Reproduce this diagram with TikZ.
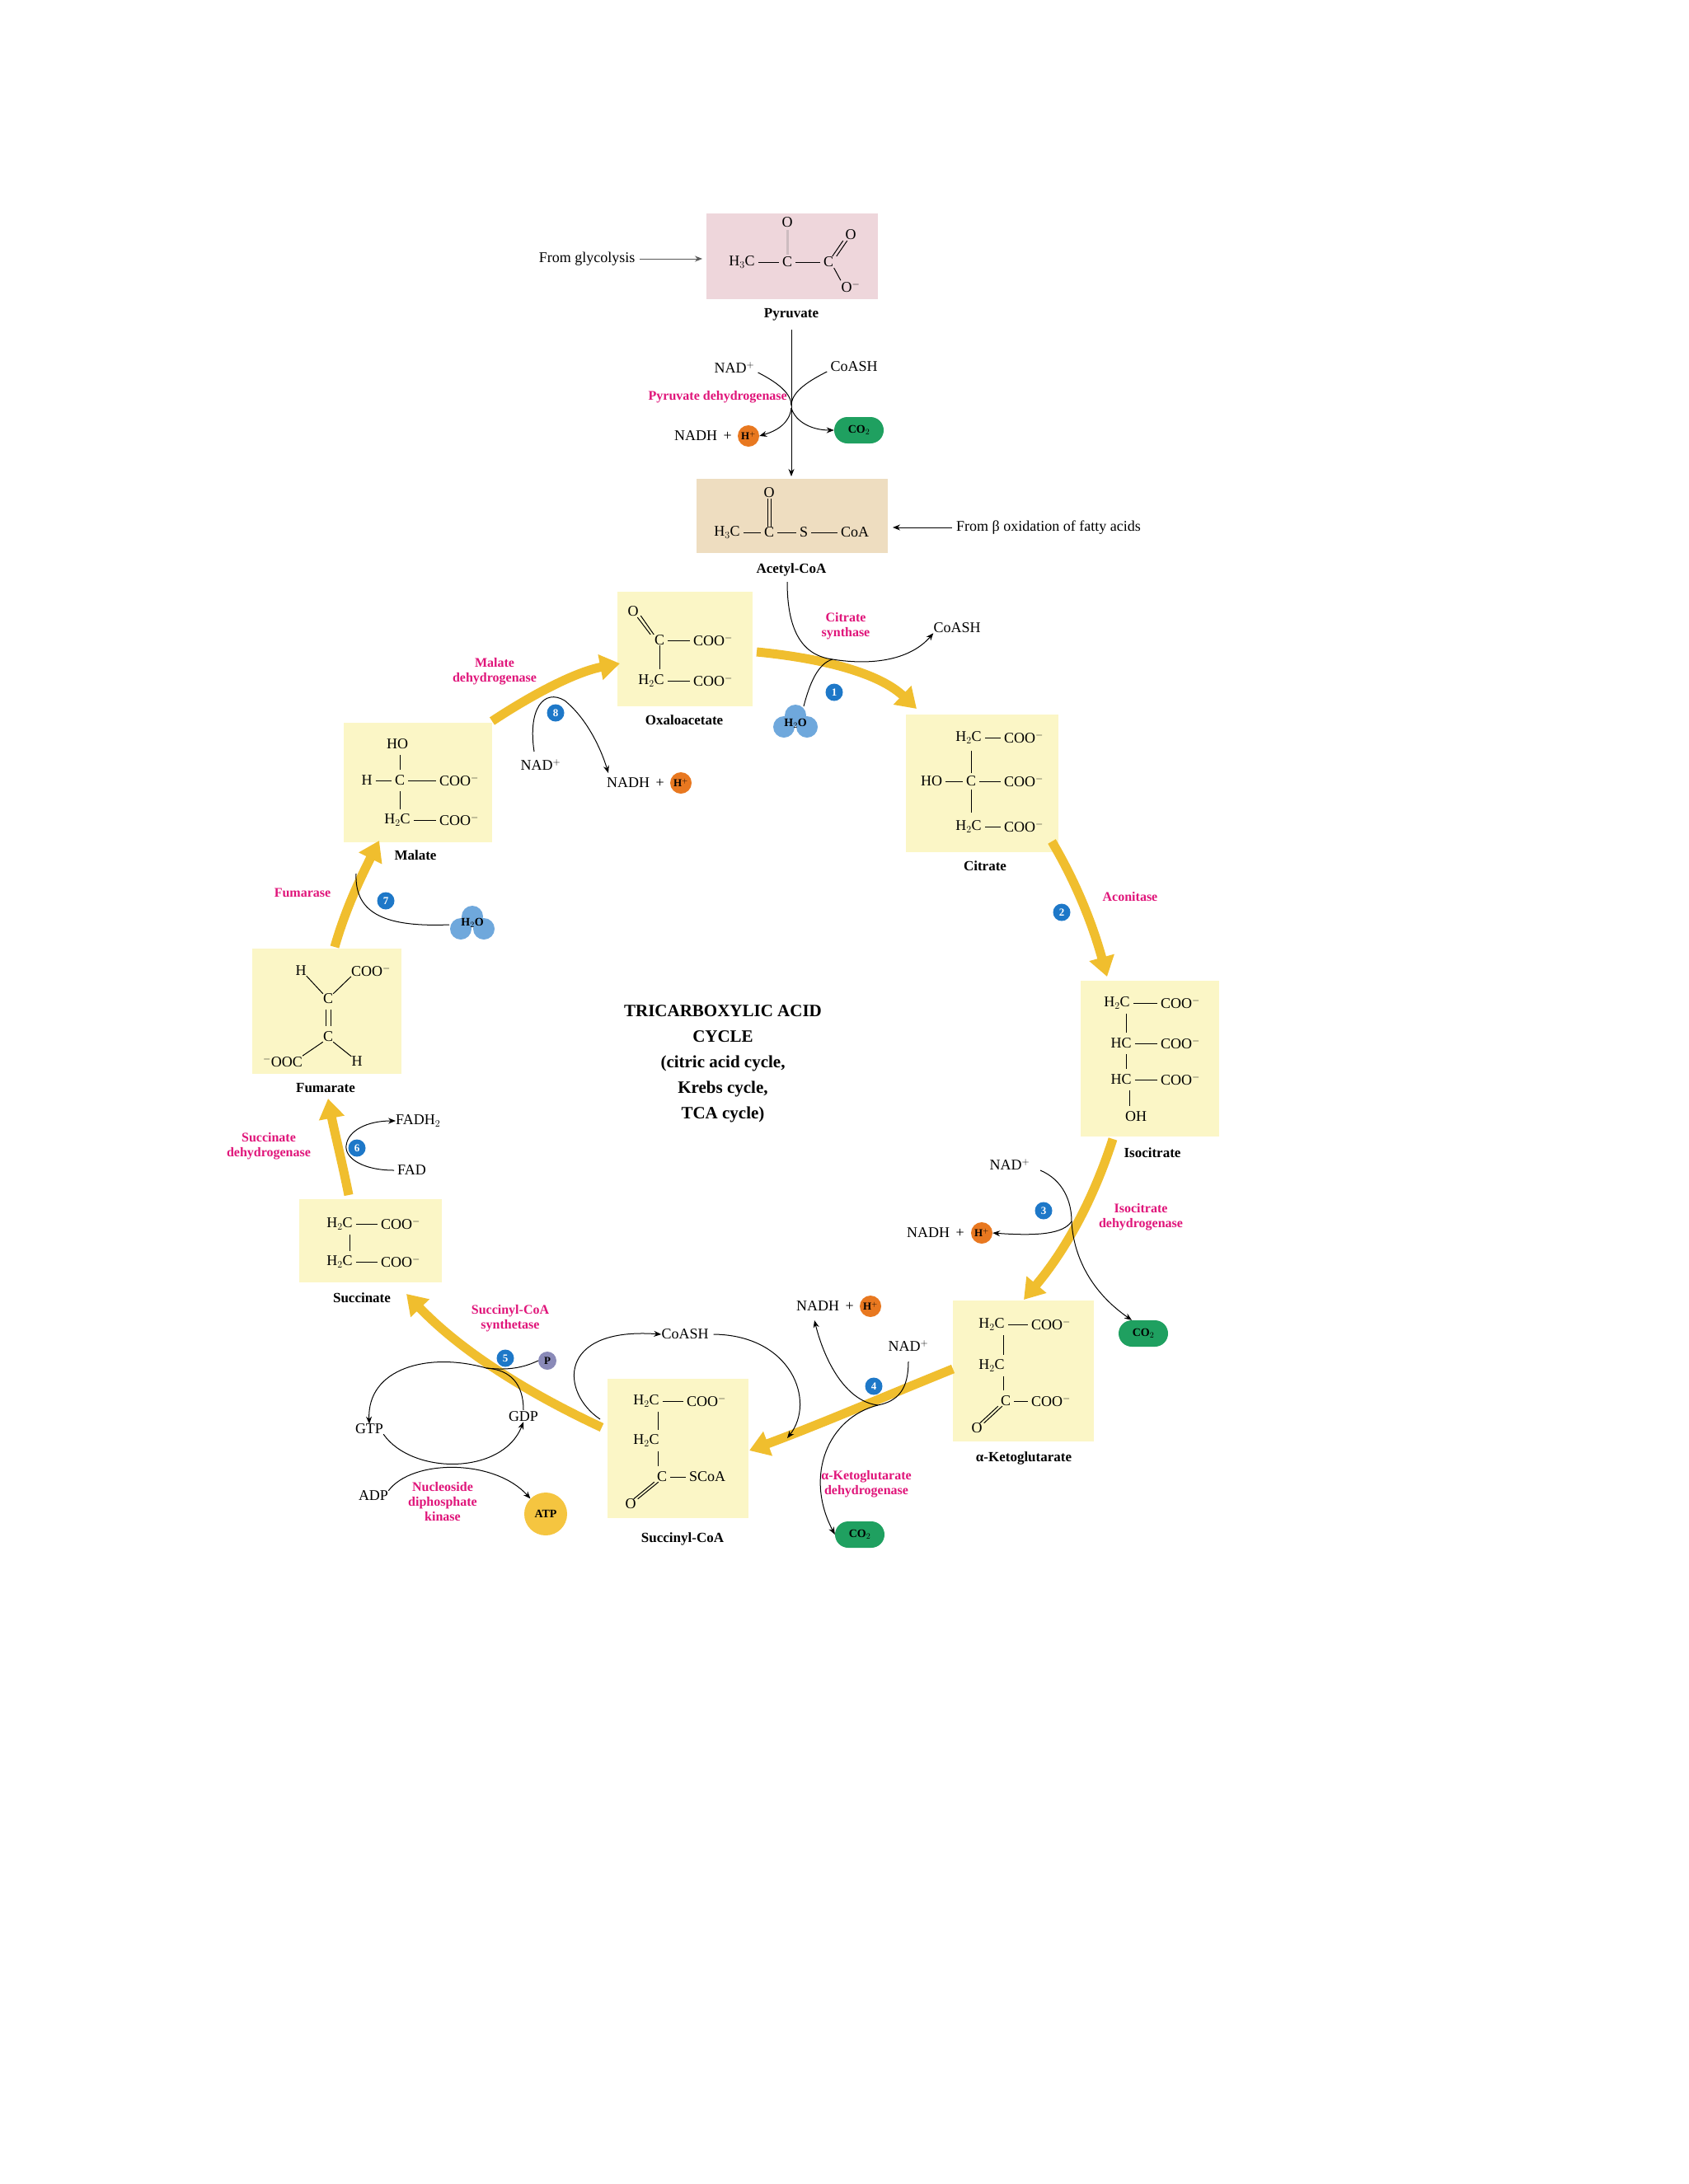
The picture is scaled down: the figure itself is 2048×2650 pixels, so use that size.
\documentclass[tikz,border=0pt]{standalone}
\usepackage{fontspec}
\setmainfont{Liberation Serif}
\usetikzlibrary{arrows.meta,shapes.misc}
\definecolor{boxy}{HTML}{FBF6C6}
\definecolor{pinkb}{HTML}{EED6DB}
\definecolor{tanb}{HTML}{EEDDC0}
\definecolor{yel}{HTML}{F0BE2E}
\definecolor{mag}{HTML}{E0157A}
\definecolor{stepb}{HTML}{1E78C8}
\definecolor{grn}{HTML}{1FA060}
\definecolor{org}{HTML}{E87820}
\definecolor{wat}{HTML}{6FA8DC}
\definecolor{atp}{HTML}{F5C540}
\definecolor{pgray}{HTML}{8A8AB8}
\tikzset{
 t/.style={font=\fontsize{18}{20}\selectfont, inner sep=0pt},
 cn/.style={font=\fontsize{17}{19}\selectfont\bfseries, inner sep=0pt},
 enz/.style={font=\fontsize{16}{18}\selectfont\bfseries, text=mag, align=center, inner sep=0pt},
 yarr/.style={line width=11pt, color=yel, -{Triangle[width=30pt,length=24pt]}},
 tarr/.style={line width=1pt, -{Stealth[length=9pt,width=7pt]}},
 tline/.style={line width=1pt},
 bond/.style={line width=1pt, shorten <=4pt, shorten >=4pt},
 stp/.style={circle, fill=stepb, text=white, font=\fontsize{13}{13}\selectfont\bfseries, inner sep=0pt, minimum size=21pt},
 co2/.style={rounded rectangle, fill=grn, font=\fontsize{14}{14}\selectfont\bfseries, minimum width=64pt, minimum height=32pt, inner sep=2pt},
 hp/.style={circle, fill=org, font=\fontsize{13}{13}\selectfont\bfseries, minimum size=26pt, inner sep=0pt},
}
\begin{document}
\begin{tikzpicture}[x=1pt,y=-1pt]
\useasboundingbox[fill=white] (0,0) rectangle (2048,2650);

% ---------- Pyruvate ----------
\fill[pinkb] (857,259) rectangle (1065,363);
\node[t] (p1) at (900,318) {H$_3$C};
\node[t] (p2) at (955,318) {C};
\node[t] (p3) at (1005,318) {C};
\node[t] (pO) at (955,270) {O};
\node[t] (pO2) at (1032,285) {O};
\node[t] (pO3) at (1032,348) {O$^-$};
\draw[bond] (p1) -- (p2); \draw[bond] (p2) -- (p3);
\draw[line width=3pt,pinkb!70!gray,shorten <=3pt,shorten >=3pt] (pO) -- (p2);
\draw[bond,shorten <=1pt,shorten >=1pt] ([xshift=-2pt]p3.north east) -- ([xshift=-2pt]pO2.south west);
\draw[bond,shorten <=1pt,shorten >=1pt] ([xshift=3pt]p3.north east) -- ([xshift=3pt]pO2.south west);
\draw[bond,shorten <=1pt,shorten >=1pt] (p3.south east) -- (pO3.north west);
\node[cn] (pyr) at (960,382) {Pyruvate};
\node[t] (glyc) at (712,314) {From glycolysis};
\draw[tarr,gray!70!black] (glyc.east) ++(6,0) -- (852,314);

% ---------- Pyruvate dehydrogenase ----------
\coordinate (pv) at (960,400);
\node[t] (nadA) at (891,446) {NAD$^+$};
\node[t] (coashA) at (1036,445) {CoASH};
\node[enz,anchor=east] (pdh) at (955,482) {Pyruvate dehydrogenase};
\node[t,anchor=east] (nadhA) at (888,529) {NADH \,+};
\node[hp] (hA) at (908,529) {H$^+$};
\node[co2] (co2A) at (1042,522) {CO$_2$};
\draw[tarr] (pv) -- (960,578);
\draw[tline] (nadA.east) ++(4,6) .. controls (945,465) and (960,478) .. (960,492);
\draw[tline] (coashA.west) ++(-4,6) .. controls (975,465) and (960,478) .. (960,492);
\draw[tarr] (960,495) .. controls (958,512) and (945,522) .. (hA.east);
\draw[tarr] (960,495) .. controls (965,512) and (985,522) .. (co2A.west);

% ---------- Acetyl-CoA ----------
\fill[tanb] (845,581) rectangle (1077,671);
\node[t] (a1) at (882,646) {H$_3$C};
\node[t] (a2) at (933,646) {C};
\node[t] (a3) at (975,646) {S};
\node[t] (a4) at (1037,646) {CoA};
\node[t] (aO) at (933,598) {O};
\draw[bond] (a1) -- (a2); \draw[bond] (a2) -- (a3); \draw[bond] (a3) -- (a4);
\draw[bond,shorten <=1pt,shorten >=1pt] ([xshift=-2pt]aO.south) -- ([xshift=-2pt]a2.north);
\draw[bond,shorten <=1pt,shorten >=1pt] ([xshift=2pt]aO.south) -- ([xshift=2pt]a2.north);
\node[cn] (acoa) at (960,691) {Acetyl-CoA};
\node[t,anchor=west] (beta) at (1160,640) {From β oxidation of fatty acids};
\draw[tarr] (beta.west) ++(-5,0) -- (1083,640);

% ---------- cycle boxes ----------
% Oxaloacetate
\fill[boxy] (749,718) rectangle (913,857);
\node[t] (o0) at (768,742) {O};
\node[t] (o1) at (800,777) {C};
\node[t] (o2) at (865,777) {COO$^-$};
\node[t] (o3) at (790,826) {H$_2$C};
\node[t] (o4) at (865,826) {COO$^-$};
\draw[bond] (o1) -- (o2); \draw[bond] (o3) -- (o4); \draw[bond,shorten <=0pt] (o1) -- (800,816);
\draw[bond,shorten <=1pt,shorten >=1pt] (o0.south east) ++(-2,0) -- ([xshift=-4pt]o1.north west);
\draw[bond,shorten <=1pt,shorten >=1pt] (o0.south east) ++(2,-2) -- ([xshift=0pt]o1.north west);
\node[cn] (oxa) at (830,874) {Oxaloacetate};
% Citrate
\fill[boxy] (1099,867) rectangle (1284,1034);
\node[t] (c1) at (1175,895) {H$_2$C};
\node[t] (c2) at (1242,895) {COO$^-$};
\node[t] (c3) at (1130,948) {HO};
\node[t] (c4) at (1178,948) {C};
\node[t] (c5) at (1242,948) {COO$^-$};
\node[t] (c6) at (1175,1003) {H$_2$C};
\node[t] (c7) at (1242,1003) {COO$^-$};
\draw[bond] (c1)--(c2); \draw[bond] (c3)--(c4); \draw[bond] (c4)--(c5); \draw[bond] (c6)--(c7);
\draw[bond] (1178,907) -- (c4); \draw[bond] (c4) -- (1178,990);
\node[cn] (cit) at (1195,1051) {Citrate};
% Isocitrate
\fill[boxy] (1311,1190) rectangle (1479,1379);
\node[t] (i1) at (1355,1217) {H$_2$C};
\node[t] (i2) at (1432,1217) {COO$^-$};
\node[t] (i3) at (1360,1266) {HC};
\node[t] (i4) at (1432,1266) {COO$^-$};
\node[t] (i5) at (1360,1310) {HC};
\node[t] (i6) at (1432,1310) {COO$^-$};
\node[t] (i7) at (1378,1355) {OH};
\draw[bond] (i1)--(i2); \draw[bond] (i3)--(i4); \draw[bond] (i5)--(i6);
\draw[tline] (1366,1230)--(1366,1253); \draw[tline] (1366,1279)--(1366,1297); \draw[tline] (1370,1323)--(1370,1342);
\node[cn] (iso) at (1398,1399) {Isocitrate};
% alpha-KG
\fill[boxy] (1156,1578) rectangle (1327,1749);
\node[t] (k1) at (1203,1607) {H$_2$C};
\node[t] (k2) at (1275,1607) {COO$^-$};
\node[t] (k3) at (1203,1657) {H$_2$C};
\node[t] (k4) at (1220,1700) {C};
\node[t] (k5) at (1275,1700) {COO$^-$};
\node[t] (k6) at (1185,1733) {O};
\draw[bond] (k1)--(k2); \draw[bond] (k4)--(k5);
\draw[tline] (1217,1620)--(1217,1644); \draw[tline] (1217,1670)--(1217,1687);
\draw[tline] ([xshift=-3pt]k4.south west) -- ([xshift=-3pt]k6.north east);
\draw[tline] ([xshift=2pt]k4.south west) -- ([xshift=2pt]k6.north east);
\node[cn] (akg) at (1242,1769) {α-Ketoglutarate};
% Succinyl-CoA
\fill[boxy] (737,1673) rectangle (908,1842);
\node[t] (s1) at (784,1700) {H$_2$C};
\node[t] (s2) at (857,1700) {COO$^-$};
\node[t] (s3) at (784,1748) {H$_2$C};
\node[t] (s4) at (803,1792) {C};
\node[t] (s5) at (858,1792) {SCoA};
\node[t] (s6) at (765,1825) {O};
\draw[bond] (s1)--(s2); \draw[bond] (s4)--(s5);
\draw[tline] (798,1713)--(798,1735); \draw[tline] (798,1761)--(798,1779);
\draw[tline] ([xshift=-3pt]s4.south west) -- ([xshift=-3pt]s6.north east);
\draw[tline] ([xshift=2pt]s4.south west) -- ([xshift=2pt]s6.north east);
\node[cn] (scoa) at (828,1867) {Succinyl-CoA};
% Succinate
\fill[boxy] (363,1455) rectangle (536,1556);
\node[t] (u1) at (412,1485) {H$_2$C};
\node[t] (u2) at (486,1485) {COO$^-$};
\node[t] (u3) at (412,1531) {H$_2$C};
\node[t] (u4) at (486,1531) {COO$^-$};
\draw[bond] (u1)--(u2); \draw[bond] (u3)--(u4); \draw[tline] (424,1498)--(424,1518);
\node[cn] (succ) at (439,1575) {Succinate};
% Fumarate
\fill[boxy] (306,1151) rectangle (487,1303);
\node[t] (f1) at (365,1178) {H};
\node[t] (f2) at (450,1178) {COO$^-$};
\node[t] (f3) at (398,1212) {C};
\node[t] (f4) at (398,1258) {C};
\node[t] (f5) at (343,1288) {$^-$OOC};
\node[t] (f6) at (433,1288) {H};
\draw[tline] (f1.south east)--(f3.north west); \draw[tline] (f2.south west)--(f3.north east);
\draw[tline] (395,1225)--(395,1245); \draw[tline] (401,1225)--(401,1245);
\draw[tline] (f4.south west)--(f5.north east); \draw[tline] (f4.south east)--(f6.north west);
\node[cn] (fum) at (395,1320) {Fumarate};
% Malate
\fill[boxy] (417,877) rectangle (597,1022);
\node[t] (m1) at (482,903) {HO};
\node[t] (m2) at (445,947) {H};
\node[t] (m3) at (485,947) {C};
\node[t] (m4) at (557,947) {COO$^-$};
\node[t] (m5) at (482,995) {H$_2$C};
\node[t] (m6) at (557,995) {COO$^-$};
\draw[bond] (m2)--(m3); \draw[bond] (m3)--(m4); \draw[bond] (m5)--(m6);
\draw[tline] (485,916)--(485,934); \draw[tline] (485,960)--(485,982);
\node[cn] (mal) at (504,1038) {Malate};

% ---------- title ----------
\node[font=\fontsize{21}{31}\selectfont\bfseries, align=center] (title) at (877,1291)
 {TRICARBOXYLIC ACID\\CYCLE\\(citric acid cycle,\\Krebs cycle,\\TCA cycle)};

% ---------- yellow cycle arrows ----------
\draw[yarr] (918,791) .. controls (1010,800) and (1070,820) .. (1112,860);
\draw[yarr] (1276,1021) .. controls (1305,1070) and (1325,1120) .. (1343,1185);
\draw[yarr] (1350,1382) .. controls (1325,1460) and (1290,1520) .. (1242,1577);
\draw[yarr] (1156,1661) .. controls (1060,1700) and (990,1730) .. (909,1760);
\draw[yarr] (730,1732) .. controls (640,1690) and (560,1640) .. (493,1570);
\draw[yarr] (423,1450) .. controls (415,1410) and (405,1370) .. (398,1333);
\draw[yarr] (406,1149) .. controls (420,1100) and (440,1060) .. (460,1020);
\draw[yarr] (597,875) .. controls (650,840) and (700,815) .. (752,805);

% ---------- step markers ----------
\node[stp] (n1) at (1012,840) {1};
\node[stp] (n2) at (1288,1107) {2};
\node[stp] (n3) at (1266,1469) {3};
\node[stp] (n4) at (1060,1682) {4};
\node[stp] (n5) at (613,1648) {5};
\node[stp] (n6) at (433,1393) {6};
\node[stp] (n7) at (468,1093) {7};
\node[stp] (n8) at (674,865) {8};

% ---------- enzymes ----------
\node[enz] (e1) at (1026,760) {Citrate\\synthase};
\node[enz] (e2) at (1371,1088) {Aconitase};
\node[enz] (e3) at (1384,1477) {Isocitrate\\dehydrogenase};
\node[enz] (e4) at (1051,1801) {α-Ketoglutarate\\dehydrogenase};
\node[enz] (e5) at (619,1600) {Succinyl-CoA\\synthetase};
\node[enz] (e5b) at (537,1822) {Nucleoside\\diphosphate\\kinase};
\node[enz] (e6) at (326,1391) {Succinate\\dehydrogenase};
\node[enz] (e7) at (367,1083) {Fumarase};
\node[enz] (e8) at (600,815) {Malate\\dehydrogenase};

% ---------- step 1 ----------
\node[t] (coash1) at (1161,762) {CoASH};
\fill[wat] (951,882) circle (13pt) (979,882) circle (13pt) (965,868) circle (13pt);
\node[font=\fontsize{14}{14}\selectfont\bfseries] (w1) at (965,878) {H$_2$O};
\coordinate (j1) at (1010,800);
\draw[tline] (955,706) .. controls (955,760) and (970,795) .. (j1);
\draw[tline] (975,857) .. controls (982,830) and (992,805) .. (j1);
\draw[tarr] (j1) .. controls (1060,808) and (1105,800) .. (coash1.south west);

% ---------- step 8 ----------
\node[t] (nad8) at (656,928) {NAD$^+$};
\node[t,anchor=east] (nadh8) at (806,950) {NADH \,+};
\node[hp] (h8) at (826,950) {H$^+$};
\draw[tarr] (648,912) .. controls (640,860) and (660,835) .. (685,850) .. controls (710,870) and (728,905) .. (738,938);

% ---------- step 7 ----------
\fill[wat] (559,1127) circle (13pt) (587,1127) circle (13pt) (573,1112) circle (13pt);
\node[font=\fontsize{14}{14}\selectfont\bfseries] (w7) at (573,1120) {H$_2$O};
\draw[tline] (545,1122) .. controls (470,1125) and (430,1110) .. (432,1060);

% ---------- step 6 ----------
\node[t,anchor=west] (fadh) at (480,1360) {FADH$_2$};
\node[t,anchor=west] (fad) at (482,1420) {FAD};
\draw[tarr] (fad.west) ++(-4,0) .. controls (440,1420) and (418,1405) .. (420,1390) .. controls (422,1372) and (445,1360) .. (fadh.west);

% ---------- step 3 ----------
\node[t] (nad3) at (1225,1413) {NAD$^+$};
\node[t,anchor=east] (nadh3) at (1170,1496) {NADH \,+};
\node[hp] (h3) at (1191,1496) {H$^+$};
\node[co2] (co23) at (1387,1618) {CO$_2$};
\coordinate (j3) at (1300,1482);
\draw[tline] (1262,1420) .. controls (1290,1432) and (1300,1458) .. (j3);
\draw[tarr] (j3) .. controls (1290,1497) and (1260,1500) .. (h3.east);
\draw[tarr] (j3) .. controls (1302,1520) and (1320,1565) .. (co23.north west);

% ---------- step 4 ----------
\node[t,anchor=east] (nadh4) at (1036,1585) {NADH \,+};
\node[hp] (h4) at (1056,1585) {H$^+$};
\node[t] (nad4) at (1102,1633) {NAD$^+$};
\node[co2] (co24) at (1043,1862) {CO$_2$};
\coordinate (j4) at (1065,1705);
\draw[tline] (1102,1652) .. controls (1102,1685) and (1090,1700) .. (j4);
\draw[tarr] (j4) .. controls (1025,1700) and (1000,1650) .. (988,1602);
\draw[tarr] (j4) .. controls (1005,1720) and (975,1790) .. (co24.west);

% ---------- step 5 ----------
\node[t] (coash5) at (831,1619) {CoASH};
\draw[tarr] (728,1722) .. controls (680,1690) and (675,1610) .. (coash5.west);
\draw[tarr] (coash5.east) ++(6,0) .. controls (960,1620) and (990,1700) .. (955,1745);
\node[circle, fill=pgray, font=\fontsize{13}{13}\selectfont\bfseries, minimum size=22pt, inner sep=0pt] (P) at (664,1651) {P};
\node[t] (gtp) at (448,1734) {GTP};
\node[t] (gdp) at (635,1719) {GDP};
\node[t] (adp) at (453,1815) {ADP};
\node[circle, fill=atp, font=\fontsize{14}{14}\selectfont\bfseries, minimum width=52pt, minimum height=34pt, inner sep=0pt] (atp) at (662,1837) {ATP};
\coordinate (j5) at (590,1660);
\draw[tline] (P.west) .. controls (630,1662) and (610,1662) .. (j5);
\draw[tline] (gdp.north) ++(0,-2) .. controls (635,1680) and (620,1662) .. (j5);
\draw[tarr] (j5) .. controls (520,1640) and (445,1660) .. (gtp.north);
\draw[tarr] (gtp.south east) .. controls (500,1790) and (610,1790) .. (gdp.south);
\draw[tarr] (adp.north east) .. controls (500,1770) and (600,1770) .. (atp.north west);
\end{tikzpicture}
\end{document}
